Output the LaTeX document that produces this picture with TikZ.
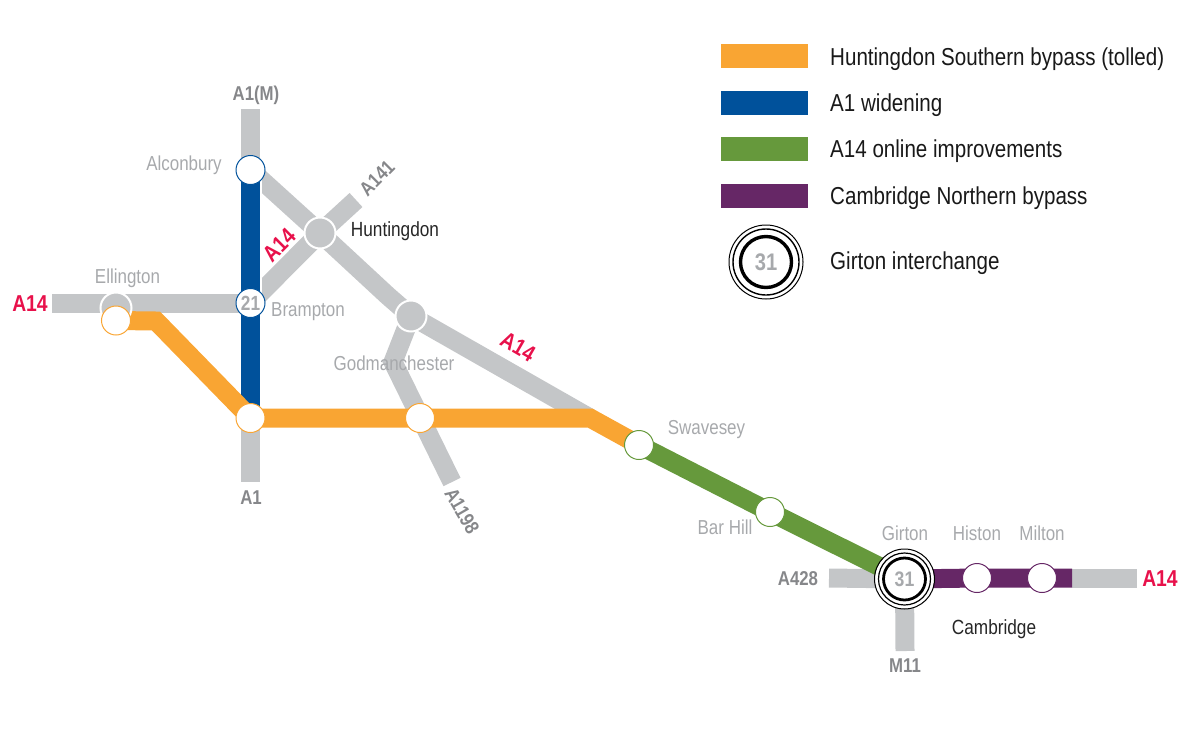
\documentclass[tikz,border=0pt]{standalone}
\usepackage{fontspec}
\setmainfont{Liberation Sans}[FakeStretch=0.84]
\usetikzlibrary{backgrounds}
\definecolor{roadgrey}{HTML}{C4C6C8}
\definecolor{labelgrey}{HTML}{A7A9AC}
\definecolor{tollorange}{HTML}{F9A533}
\definecolor{widenblue}{HTML}{00519B}
\definecolor{onlinegreen}{HTML}{66993C}
\definecolor{bypasspurple}{HTML}{662766}
\definecolor{roadred}{HTML}{E8114B}
\tikzset{
  road/.style={line width=19pt, color=#1},
  road/.default=roadgrey,
  junction/.style={circle, fill=white, draw=#1, line width=1pt, minimum size=29pt, inner sep=0pt, font=\fontsize{20.5}{21}\selectfont\bfseries, text=labelgrey},
  greyjunction/.style={circle, fill=roadgrey, draw=white, line width=2pt, minimum size=31pt, inner sep=0pt},
  ring/.style={circle, draw=black, fill=none, inner sep=0pt},
  place/.style={font=\fontsize{20.2}{22}\selectfont, text=labelgrey, inner sep=0pt},
  town/.style={font=\fontsize{20.5}{22}\selectfont, text=black!85, inner sep=0pt},
  roadname/.style={font=\fontsize{20}{22}\selectfont\bfseries, text=labelgrey!80!black, inner sep=0pt},
  redname/.style={font=\fontsize{23}{24}\selectfont\bfseries, text=roadred, inner sep=0pt},
  legendbar/.style={minimum width=87pt, minimum height=24pt, inner sep=0pt, fill=#1},
  legendtext/.style={font=\fontsize{24.5}{26}\selectfont, text=black!90, inner sep=0pt, anchor=west},
}
\begin{document}
\begin{tikzpicture}[x=1pt,y=-1pt]
\useasboundingbox (0,0) rectangle (1182,747);

\coordinate (a14west) at (52,303);
\coordinate (a14east) at (1137,578);
\coordinate (a1mend) at (250.5,109);
\coordinate (a1end) at (250.5,482);
\coordinate (a141end) at (356,200);
\coordinate (a1198end) at (452,482);
\coordinate (a428end) at (829,578);
\coordinate (m11end) at (905,651);
\coordinate (bendhunt) at (388,296);
\coordinate (bendgod) at (393,362);
\coordinate (bendorangea) at (156,321);
\coordinate (bendorangeb) at (590,418);
\coordinate (purpleend) at (1072,578);

\node[greyjunction] (ellingtongrey) at (116,308) {};
\node[greyjunction] (huntingdonj) at (320,233) {};
\node[greyjunction] (godmanj) at (411,316) {};

\node[junction=widenblue] (alconbury) at (250.5,170) {};
\node[junction=widenblue] (brampton) at (250.5,303) {21};
\node[junction=tollorange] (ellington) at (116,320.5) {};
\node[junction=tollorange] (a1south) at (250.5,418) {};
\node[junction=tollorange] (a1198j) at (420,418) {};
\node[junction=onlinegreen] (swavesey) at (639,445) {};
\node[junction=onlinegreen] (barhill) at (770,512) {};
\node[junction=bypasspurple] (histon) at (977,578) {};
\node[junction=bypasspurple] (milton) at (1042,578) {};

\node[circle, fill=white, minimum size=59pt, inner sep=0pt, font=\fontsize{21}{21}\selectfont\bfseries, text=labelgrey] (girton) at (904.5,579) {31};
\node[ring, line width=1pt, minimum size=60pt] (girtonouter) at (girton) {};
\node[ring, line width=1.2pt, minimum size=52pt] (girtonmid) at (girton) {};
\node[ring, line width=2.8pt, minimum size=42pt] (girtoninner) at (girton) {};

\begin{scope}[on background layer]
\draw[road] (a14west) -- (brampton.center);
\draw[road] (brampton.center) -- (huntingdonj.center) -- (a141end);
\draw[road] (alconbury.center) -- (huntingdonj.center) -- (bendhunt) -- (godmanj.center) -- (bendorangeb);
\draw[road] (godmanj.center) -- (bendgod) -- (a1198end);
\draw[road] (a1mend) -- (alconbury.center);
\draw[road] (a1south.center) -- (a1end);
\draw[road] (a428end) -- (girton.center) -- (m11end);
\draw[road] (purpleend) -- (a14east);
\draw[white, line width=23pt] (alconbury.center) -- (a1south.center);
\draw[road=widenblue] (alconbury.center) -- (a1south.center);
\draw[road=tollorange, line join=miter] (ellington.center) -- (bendorangea) -- (a1south.center) -- (bendorangeb) -- (swavesey.center);
\draw[road=onlinegreen] (swavesey.center) -- (barhill.center) -- (girton.center);
\draw[road=bypasspurple] (girton.center) -- (histon.center) -- (milton.center) -- (purpleend);
\end{scope}

\node[place] (alconburytxt) at (184,165) {Alconbury};
\node[place] (ellingtontxt) at (127.5,278) {Ellington};
\node[place] (bramptontxt) at (308,312) {Brampton};
\node[place] (godmantxt) at (394,363) {Godmanchester};
\node[place] (swaveseytxt) at (706.5,430) {Swavesey};
\node[place] (barhilltxt) at (725,527) {Bar Hill};
\node[place] (girtontxt) at (905,533) {Girton};
\node[place] (histontxt) at (977,533) {Histon};
\node[place] (miltontxt) at (1042,533) {Milton};
\node[town] (huntingdontxt) at (395,231) {Huntingdon};
\node[town] (cambridgetxt) at (994,629) {Cambridge};
\node[roadname] (a1mtxt) at (256,95) {A1(M)};
\node[roadname, rotate=45] (a141txt) at (377,178) {A141};
\node[roadname] (a1txt) at (251,498) {A1};
\node[roadname, rotate=-60] (a1198txt) at (462,511) {A1198};
\node[roadname] (a428txt) at (798,579) {A428};
\node[roadname] (m11txt) at (905,666) {M11};
\node[redname] (a14w) at (30,304) {A14};
\node[redname, rotate=45] (a14mid) at (279,245) {A14};
\node[redname, rotate=-30] (a14diag) at (518,347) {A14};
\node[redname] (a14e) at (1160,579) {A14};

\node[legendbar=tollorange] (barorange) at (764.5,56) {};
\node[legendbar=widenblue] (barblue) at (764.5,103) {};
\node[legendbar=onlinegreen] (bargreen) at (764.5,149) {};
\node[legendbar=bypasspurple] (barpurple) at (764.5,195.5) {};
\node[legendtext] (txtorange) at (830,59) {Huntingdon Southern bypass (tolled)};
\node[legendtext] (txtblue) at (830,105) {A1 widening};
\node[legendtext] (txtgreen) at (830,151) {A14 online improvements};
\node[legendtext] (txtpurple) at (830,198) {Cambridge Northern bypass};
\node[legendtext] (txtgirton) at (830,263) {Girton interchange};
\node[ring, line width=1pt, minimum size=74pt] (keyouter) at (766,262) {};
\node[ring, line width=1.4pt, minimum size=66pt] (keymid) at (766,262) {};
\node[ring, line width=3.4pt, minimum size=51pt, font=\fontsize{24}{24}\selectfont\bfseries, text=labelgrey] (keyinner) at (766,262) {31};
\end{tikzpicture}
\end{document}
